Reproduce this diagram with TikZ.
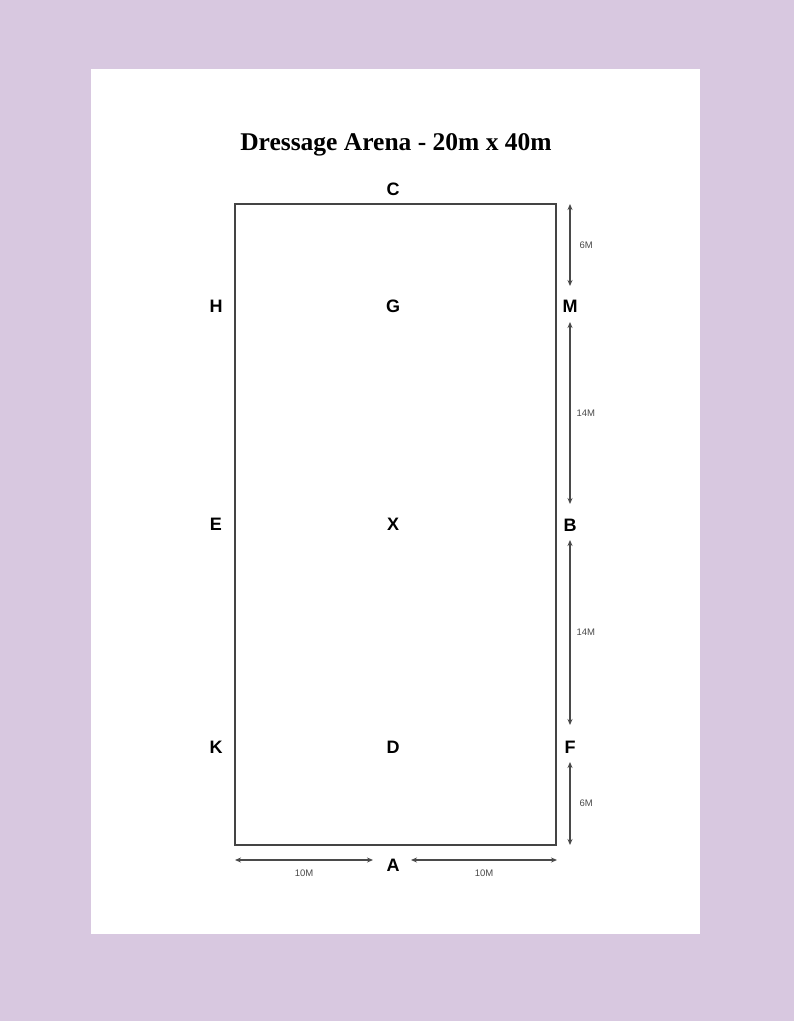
\documentclass[tikz,border=0pt]{standalone}
\usepackage{fontspec}
\setmainfont{Liberation Serif}
\setsansfont{Liberation Sans}
\usepackage{tikz}
\usetikzlibrary{arrows.meta,positioning}
\definecolor{lilac}{HTML}{D8C8E0}
\definecolor{fence}{HTML}{444444}
\definecolor{rule}{HTML}{4A4A4A}

\begin{document}
\begin{tikzpicture}[x=1pt,y=-1pt,
  letter/.style={font=\sffamily\bfseries\fontsize{18}{18}\selectfont,inner sep=0pt},
  dist/.style={font=\sffamily\fontsize{9.5}{9.5}\selectfont,text=rule,inner sep=0pt},
  measure/.style={draw=rule,line width=1.2pt,{Stealth[length=6pt,width=5pt]}-{Stealth[length=6pt,width=5pt]}}]
  %page
  \fill[lilac] (0,0) rectangle (794,1021);
  \fill[white] (91,69) rectangle (700,934);
  \useasboundingbox (0,0) rectangle (794,1021);

  \node[font=\bfseries\fontsize{25.5}{25.5}\selectfont,inner sep=0pt] (title) at (396,145) {Dressage Arena - 20m x 40m};

  %arena
  \coordinate (nw) at (235,204);
  \coordinate (se) at (556,845);
  \draw[fence,line width=2.8pt] (nw) rectangle (se);

  %letters
  \node[letter] (c) at (393,189) {C};
  \foreach \name/\y in {h/306,e/524,k/747}
    \node[letter] (\name) at (216,\y) {\MakeUppercase{\name}};
  \foreach \name/\y in {g/306,x/524,d/747}
    \node[letter] (\name) at (393,\y) {\MakeUppercase{\name}};
  \foreach \name/\y in {m/306,b/525,f/747}
    \node[letter] (\name) at (570,\y) {\MakeUppercase{\name}};
  \node[letter] (a) at (393,865) {A};

  %ends of the measures
  \coordinate (top end) at (570,204);
  \coordinate (m up) at (570,286);
  \coordinate (m down) at (570,322);
  \coordinate (b up) at (570,504);
  \coordinate (b down) at (570,540);
  \coordinate (f up) at (570,725);
  \coordinate (f down) at (570,762);
  \coordinate (bottom end) at (570,845);
  \coordinate (left end) at (235,860);
  \coordinate (a left) at (373,860);
  \coordinate (a right) at (411,860);
  \coordinate (right end) at (557,860);

  \draw[measure] (top end) -- node[dist,anchor=west,xshift=9pt] {6M} (m up);
  \draw[measure] (m down) -- node[dist,anchor=west,xshift=6pt] {14M} (b up);
  \draw[measure] (b down) -- node[dist,anchor=west,xshift=6pt] {14M} (f up);
  \draw[measure] (f down) -- node[dist,anchor=west,xshift=9pt] {6M} (bottom end);

  \draw[measure] (left end) -- node[dist,anchor=north,yshift=-9pt] {10M} (a left);
  \draw[measure] (a right) -- node[dist,anchor=north,yshift=-9pt] {10M} (right end);

\end{tikzpicture}
\end{document}
